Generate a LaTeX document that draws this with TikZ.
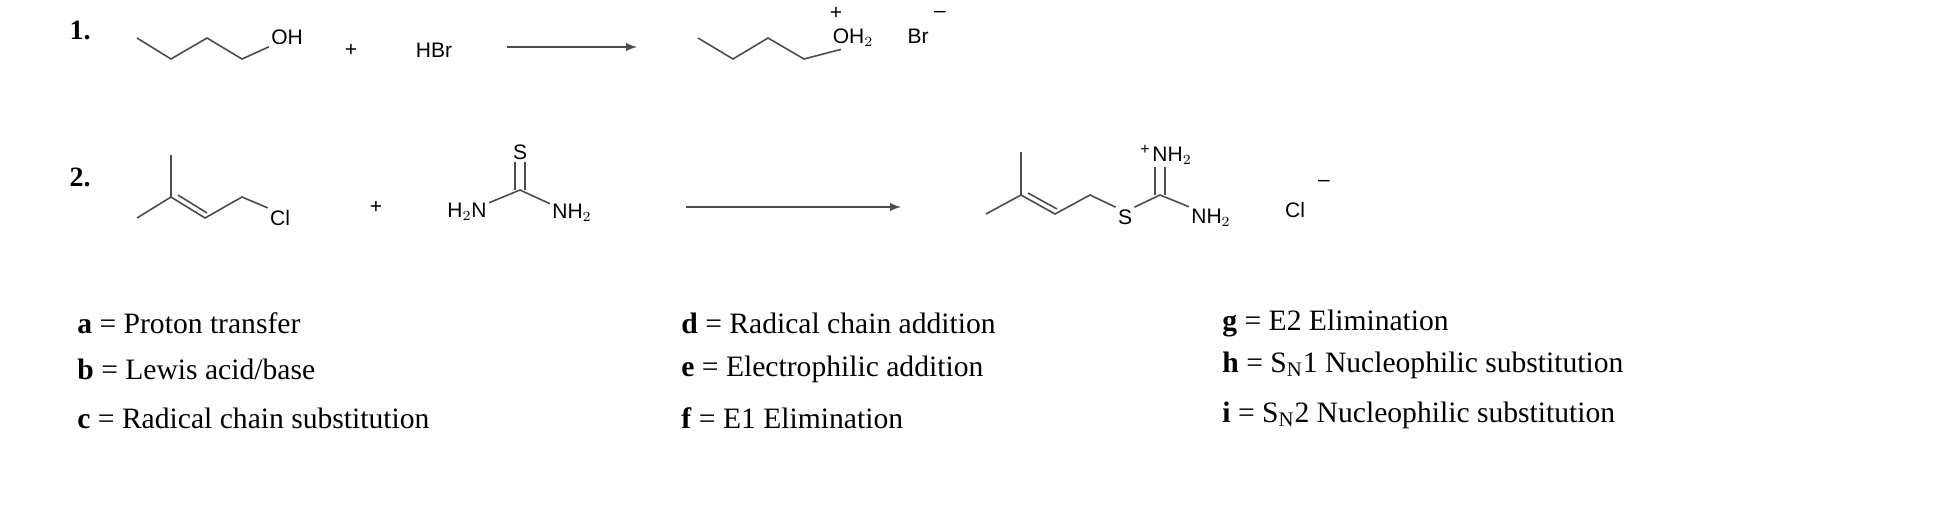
\documentclass[tikz,border=0pt]{standalone}
\usepackage{fontspec}
\setmainfont{Liberation Serif}
\newfontfamily\chem{Liberation Sans}
\begin{document}
\begin{tikzpicture}[x=0.5pt,y=-0.5pt,
  bond/.style={line width=0.8pt,gray!60!black},
  atom/.style={font=\chem\fontsize{10.5}{12}\selectfont,inner sep=1pt},
  num/.style={font=\bfseries\fontsize{14}{16}\selectfont},
  leg/.style={font=\fontsize{14.8}{17}\selectfont,anchor=west,inner sep=0pt},
  rxn/.style={line width=0.9pt,gray!60!black,-latex}]
\useasboundingbox (0,0) rectangle (1946,526);
% Row 1
\node[num] (n1) at (80,30) {1.};
\coordinate (a1) at (137,38); \coordinate (a2) at (171,59);
\coordinate (a3) at (207,38); \coordinate (a4) at (242,59);
\node[atom] (oh) at (287,37) {OH};
\draw[bond] (a1)--(a2)--(a3)--(a4)--(oh.south west);
\node[atom] (p1) at (351,50) {+};
\node[atom] (hbr) at (434,50) {HBr};
\coordinate (r1s) at (507,47); \coordinate (r1e) at (637,47);
\draw[rxn] (r1s)--(r1e);
\coordinate (b1) at (698,38); \coordinate (b2) at (733,59);
\coordinate (b3) at (768,38); \coordinate (b4) at (804,59);
\node[atom] (oh2) at (853,38) {OH$_2$};
\draw[bond] (b1)--(b2)--(b3)--(b4)--([xshift=-6pt]oh2.south);
\node[atom] (pl) at (836,13) {+};
\node[atom] (br) at (918,36) {Br};
\node[atom] (mi) at (940,14) {\textendash};
% Row 2
\node[num] (n2) at (80,177) {2.};
\coordinate (c0) at (171,155); \coordinate (c1) at (171,197);
\coordinate (cl0) at (137,218); \coordinate (c2) at (205,218);
\coordinate (c3) at (242,197);
\node[atom] (cl) at (280,218) {Cl};
\draw[bond] (c0)--(c1)--(cl0); \draw[bond] (c1)--(c2)--(c3)--(cl.north west);
\draw[bond] ([shift={(7,-2)}]c1)--([shift={(2,-5)}]c2);
\node[atom] (p2) at (376,207) {+};
\node[atom] (s) at (520,152) {S};
\coordinate (tc) at (520,190);
\node[atom] (n1l) at (467,212) {H$_2$N};
\node[atom] (n1r) at (572,213) {NH$_2$};
\draw[bond] ([xshift=-2.5]s.south)--([xshift=-2.5]tc);
\draw[bond] ([xshift=2.5]s.south)--([xshift=2.5]tc);
\draw[bond] ([yshift=-1]n1l.north east)--(tc)--([yshift=-1]n1r.north west);
\coordinate (r2s) at (686,207); \coordinate (r2e) at (901,207);
\draw[rxn] (r2s)--(r2e);
\coordinate (d0) at (1021,152); \coordinate (d1) at (1021,195);
\coordinate (dl) at (986,214); \coordinate (d2) at (1055,214);
\coordinate (d3) at (1090,195);
\node[atom] (ps) at (1125,217) {S};
\coordinate (dc) at (1160,195);
\node[atom,anchor=west] (nup) at (1150,156) {NH$_2$};
\node[atom,font=\chem\fontsize{8}{10}\selectfont] (npl) at (1145,150) {+};
\coordinate (dn) at (1160,167);
\node[atom] (ndn) at (1211,218) {NH$_2$};
\draw[bond] (d0)--(d1)--(dl); \draw[bond] (d1)--(d2)--(d3)--(ps.north west);
\draw[bond] ([shift={(7,-2)}]d1)--([shift={(2,-5)}]d2);
\draw[bond] (ps.north east)--(dc)--(ndn.north west);
\draw[bond] ([xshift=-2.5]dc)--([xshift=-2.5]dn);
\draw[bond] ([xshift=2.5]dc)--([xshift=2.5]dn);
\node[atom] (cla) at (1295,210) {Cl};
\node[atom] (clm) at (1324,183) {\textendash};
% Legend
\node[leg] (la) at (77,323) {\textbf{a} = Proton transfer};
\node[leg] (lb) at (77,369) {\textbf{b} = Lewis acid/base};
\node[leg] (lc) at (77,418) {\textbf{c} = Radical chain substitution};
\node[leg] (ld) at (681,323) {\textbf{d} = Radical chain addition};
\node[leg] (le) at (681,369) {\textbf{e} = Electrophilic addition};
\node[leg] (lf) at (681,418) {\textbf{f} = E1 Elimination};
\node[leg] (lg) at (1222,323) {\textbf{g} = E2 Elimination};
\node[leg] (lh) at (1222,365) {\textbf{h} = S$_{\mathrm{N}}$1 Nucleophilic substitution};
\node[leg] (li) at (1222,415) {\textbf{i} = S$_{\mathrm{N}}$2 Nucleophilic substitution};
\end{tikzpicture}
\end{document}
